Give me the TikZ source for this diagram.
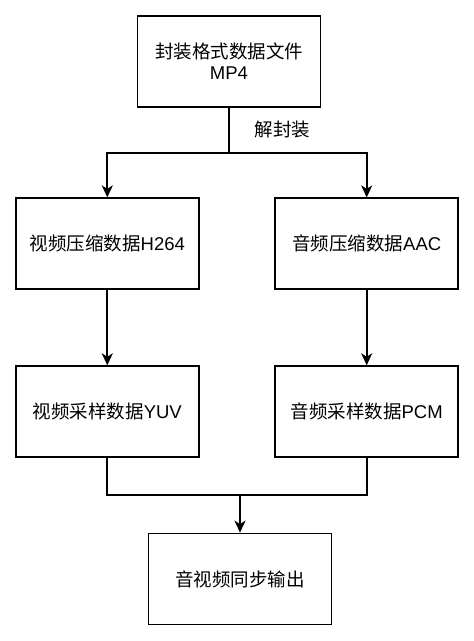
\documentclass[tikz,border=0pt]{standalone}
\usepackage{fontspec}
\setmainfont{Liberation Sans}
\newfontfamily\cjk{Noto Sans CJK SC}
\usetikzlibrary{arrows.meta}

\tikzset{
  stage/.style={draw, line width=1.8pt, minimum width=183pt, minimum height=91pt,
    inner sep=0pt, align=center, font=\fontsize{18.5pt}{21pt}\selectfont},
  flow/.style={line width=1.8pt, -{Stealth[length=12pt,width=11pt,inset=3.5pt]}},
  link/.style={line width=1.8pt}
}

\begin{document}
\begin{tikzpicture}[x=1pt,y=-1pt]
  \useasboundingbox (0,0) rectangle (474,641);
  \node[stage] (mp4) at (229,61.5) {{\cjk 封装格式数据文件}\\MP4};
  \node[stage] (h264) at (107.3,243.8) {{\cjk 视频压缩数据}H264};
  \node[stage] (aac) at (366.7,243.8) {{\cjk 音频压缩数据}AAC};
  \node[stage] (yuv) at (107.3,411.7) {{\cjk 视频采样数据}YUV};
  \node[stage] (pcm) at (366.7,411.7) {{\cjk 音频采样数据}PCM};
  \node[stage] (out) at (240,579) {\cjk 音视频同步输出};
  \coordinate (split) at (229,152.7);
  \coordinate (join) at (240,495);
  % demux and branch
  \draw[link] (mp4.south) -- (split);
  \draw[flow] (split) -| (h264.north);
  \draw[flow] (split) -| (aac.north);
  \node[font=\fontsize{18.5pt}{21pt}\selectfont\cjk] (demux) at (282.5,130) {解封装};
  % decode
  \draw[flow] (h264) -- (yuv);
  \draw[flow] (aac) -- (pcm);
  % merge
  \draw[link] (yuv.south) |- (join) -| (pcm.south);
  \draw[flow] (join) -- (out);
\end{tikzpicture}
\end{document}
